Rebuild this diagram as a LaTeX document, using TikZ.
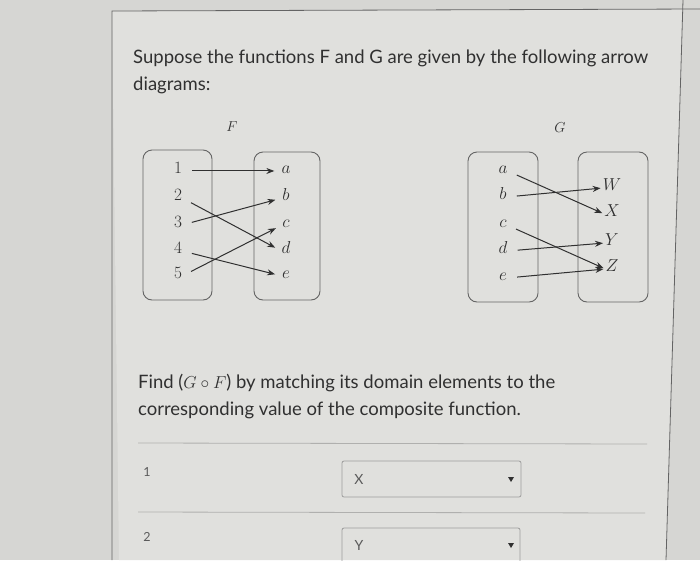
\documentclass[tikz,border=0pt]{standalone}
\usepackage{fontspec}
\setmainfont{Lato}
\usepackage{amsmath}
\usetikzlibrary{arrows.meta}
\definecolor{bgout}{RGB}{214,214,211}
\definecolor{panel}{RGB}{224,224,221}
\definecolor{ink}{RGB}{48,48,48}
\definecolor{edge}{RGB}{100,100,100}
\definecolor{rule}{RGB}{176,176,174}

\begin{document}
\begin{tikzpicture}[x=1pt,y=-1pt,
  elem/.style={inner sep=0pt, anchor=base, text height=0.8ex, text depth=0pt,
    text=ink, font=\fontsize{16}{16}\selectfont},
  setbox/.style={draw=edge, rounded corners=9pt, line width=0.9pt},
  fmap/.style={-{Stealth[length=8pt,width=6pt]}, draw=ink, line width=1pt,
    shorten <=10pt, shorten >=7pt},
  gmap/.style={-{Stealth[length=8pt,width=6pt]}, draw=ink, line width=1pt,
    shorten <=10pt, shorten >=2pt},
  para/.style={anchor=base west, inner sep=0pt, text=ink, font=\fontsize{18.5}{22}\selectfont},
  small/.style={inner sep=0pt, text=ink!80, font=\fontsize{12.5}{14}\selectfont},
]
\useasboundingbox (0,0) rectangle (700,560);
\fill[bgout] (0,0) rectangle (700,560);
\fill[panel] (112,11) -- (683,9) -- (666,560) -- (119,560) -- cycle;
\draw[edge, line width=0.8pt] (112,560) -- (112,11) -- (700,9);
\draw[edge, line width=0.8pt] (683,0) -- (666,560);

% question text
\node[para] (line1) at (133,63) {Suppose the functions F and G are given by the following arrow};
\node[para] (line2) at (133,90) {diagrams:};

% F
\node[elem, font=\fontsize{14}{14}\selectfont] (Fname) at (232,131) {$F$};
\draw[setbox] (143,150) rectangle (212,300);
\draw[setbox] (254,152) rectangle (320,300);
\foreach \n/\y in {1/173,2/200,3/227,4/253,5/278}
  \node[elem] (f\n) at (178,\y) {$\n$};
\foreach \n/\y in {a/173,b/200,c/227,d/253,e/278}
  \node[elem] (fr\n) at (286,\y) {$\n$};
\draw[fmap] (f1.east) -- (fra.west);
\draw[fmap] (f2.east) -- (frd.west);
\draw[fmap] (f3.east) -- (frb.west);
\draw[fmap] (f4.east) -- (fre.west);
\draw[fmap] (f5.east) -- (frc.west);

% G
\node[elem, font=\fontsize{14}{14}\selectfont] (Gname) at (560,132) {$G$};
\draw[setbox] (468,152) rectangle (538,302);
\draw[setbox] (578,152) rectangle (648,302);
\foreach \n/\y in {a/173,b/199,c/227,d/253,e/280}
  \node[elem] (g\n) at (503,\y) {$\n$};
\foreach \n/\y in {W/190,X/216,Y/245,Z/271}
  \node[elem] (g\n) at (612,\y) {$\n$};
\draw[gmap] (ga.east) -- (gX.west);
\draw[gmap] (gb.east) -- (gW.west);
\draw[gmap] (gc.east) -- (gZ.west);
\draw[gmap] (gd.east) -- (gY.west);
\draw[gmap] (ge.east) -- (gZ.west);

% composite question
\node[para] (find1) at (138,388) {Find ($G\circ F$) by matching its domain elements to the};
\node[para] (find2) at (138,415) {corresponding value of the composite function.};

\draw[rule, line width=0.8pt] (138,443) -- (647,444);
\draw[rule, line width=0.8pt] (138,512) -- (645,513);

\node[small] (row1) at (147,472) {1};
\draw[rule!90!black, line width=0.8pt, rounded corners=2pt] (342,461) rectangle (521,497);
\node[small, font=\fontsize{14}{16}\selectfont] (ans1) at (359,479) {X};
\fill[ink] (508,477) -- (514,477) -- (511,482) -- cycle;

\node[small] (row2) at (147,537) {2};
\draw[rule!90!black, line width=0.8pt, rounded corners=2pt] (342,528) rectangle (520,575);
\node[small, font=\fontsize{14}{16}\selectfont] (ans2) at (359,545) {Y};
\fill[ink] (508,543) -- (514,543) -- (511,548) -- cycle;
\end{tikzpicture}
\end{document}
